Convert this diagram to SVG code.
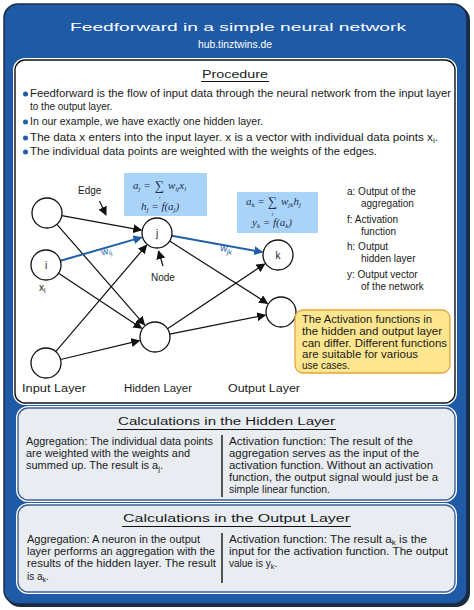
<svg xmlns="http://www.w3.org/2000/svg" width="474" height="610" viewBox="0 0 474 610">
<style>
.t{font-family:"Liberation Sans",Arial,sans-serif;font-size:10px;fill:#1a1a1a}
.w{fill:#ffffff}
.m{font-family:"Liberation Serif","Times New Roman",serif;font-style:italic;font-size:11px;fill:#1e2f4f}
.sg{font-family:"Liberation Serif","Times New Roman",serif;font-size:13px;fill:#1e2f4f}
.idx{font-family:"Liberation Serif","Times New Roman",serif;font-style:italic;font-size:5px;fill:#1e2f4f}
.s{font-size:7px}
.node{fill:#ffffff;stroke:#111111;stroke-width:1.3}
.e{stroke:#111111;stroke-width:1.2;fill:none;marker-end:url(#ah)}
.eb{stroke:#1f5fa8;stroke-width:2;fill:none;marker-end:url(#ahb)}
.ul{stroke:#111111;stroke-width:1.2}
.dot{fill:#1f5fa8}
.calc{fill:#e9edf2;stroke:#3d5f93;stroke-width:1.4}
.halo{fill:none;stroke:#ffffff;stroke-width:4}
.fb{fill:#a9d3f7}
.bl{fill:#1f5fa8}
</style>
<defs>
<marker id="ah" viewBox="0 0 10 10" refX="9" refY="5" markerWidth="9" markerHeight="9" markerUnits="userSpaceOnUse" orient="auto"><path d="M0,0 L10,5 L0,10 z" fill="#111111"/></marker>
<marker id="ahb" viewBox="0 0 10 10" refX="9" refY="5" markerWidth="9" markerHeight="9" markerUnits="userSpaceOnUse" orient="auto"><path d="M0,0 L10,5 L0,10 z" fill="#1f5fa8"/></marker>
</defs>

<g id="frame">
<rect x="6" y="6" width="464" height="601" rx="14" fill="#1b2b44"/>
<rect x="4" y="4" width="463" height="600" rx="14" fill="#1f5aa6" stroke="#1b2b44" stroke-width="1.5"/>
<text class="t w" x="70" y="31" font-size="20" textLength="336" lengthAdjust="spacingAndGlyphs">Feedforward in a simple neural network</text>
<text class="t w" x="198" y="48" textLength="74" lengthAdjust="spacingAndGlyphs">hub.tinztwins.de</text>
</g>

<g id="procedure">
<rect x="15" y="60" width="440" height="343" rx="10" fill="#ffffff" stroke="#ffffff" stroke-width="4"/>
<rect x="15" y="60" width="440" height="343" rx="10" fill="#ffffff" stroke="#111111" stroke-width="1.4"/>
<text class="t" x="202" y="78" font-size="15" textLength="66" lengthAdjust="spacingAndGlyphs">Procedure</text>
<line class="ul" x1="201" y1="81.5" x2="269" y2="81.5"/>
<circle class="dot" cx="25.5" cy="94" r="2.5"/>
<circle class="dot" cx="25.5" cy="122" r="2.5"/>
<circle class="dot" cx="25.5" cy="138" r="2.5"/>
<circle class="dot" cx="25.5" cy="152" r="2.5"/>
<text class="t" x="30" y="97" textLength="421" lengthAdjust="spacingAndGlyphs">Feedforward is the flow of input data through the neural network from the input layer</text>
<text class="t" x="30" y="110">to the output layer.</text>
<text class="t" x="30" y="125" textLength="233" lengthAdjust="spacingAndGlyphs">In our example, we have exactly one hidden layer.</text>
<text class="t" x="30" y="141" textLength="408" lengthAdjust="spacingAndGlyphs">The data x enters into the input layer. x is a vector with individual data points x<tspan class="s" dy="2">i</tspan><tspan dy="-2">.</tspan></text>
<text class="t" x="30" y="155" textLength="347" lengthAdjust="spacingAndGlyphs">The individual data points are weighted with the weights of the edges.</text>
</g>

<g id="formula-hidden">
<rect class="fb" x="124" y="173" width="83" height="43"/>
<text class="m" x="133" y="189">a<tspan class="s" dy="2">j</tspan><tspan dy="-2"> = </tspan></text>
<text class="sg" x="155" y="190">∑</text>
<text class="idx" x="159" y="198.5">i</text>
<text class="m" x="168" y="189">w<tspan class="s" dy="2">ij</tspan><tspan dy="-2">x</tspan><tspan class="s" dy="2">i</tspan></text>
<text class="m" x="141" y="210">h<tspan class="s" dy="2">j</tspan><tspan dy="-2"> = f(a</tspan><tspan class="s" dy="2">j</tspan><tspan dy="-2">)</tspan></text>
</g>

<g id="formula-output">
<rect class="fb" x="237" y="192" width="81" height="41"/>
<text class="m" x="246" y="205">a<tspan class="s" dy="2">k</tspan><tspan dy="-2"> = </tspan></text>
<text class="sg" x="268" y="206">∑</text>
<text class="idx" x="272" y="214.5">j</text>
<text class="m" x="281" y="205">w<tspan class="s" dy="2">jk</tspan><tspan dy="-2">h</tspan><tspan class="s" dy="2">j</tspan></text>
<text class="m" x="252" y="226">y<tspan class="s" dy="2">k</tspan><tspan dy="-2"> = f(a</tspan><tspan class="s" dy="2">k</tspan><tspan dy="-2">)</tspan></text>
</g>

<g id="connectors">
<line class="e" x1="61.8" y1="215.7" x2="141.3" y2="230.1"/>
<line class="e" x1="56.9" y1="224.3" x2="144.5" y2="324.9"/>
<line class="eb" x1="60.4" y1="260.8" x2="141.6" y2="237.4"/>
<line class="e" x1="58.5" y1="273.3" x2="141.6" y2="328.2"/>
<line class="e" x1="55.7" y1="351.6" x2="146.6" y2="245.2"/>
<line class="e" x1="60.6" y1="359.5" x2="139.4" y2="340.7"/>
<line class="eb" x1="171.8" y1="235.7" x2="262.3" y2="252.1"/>
<line class="e" x1="169.6" y1="241.1" x2="267.5" y2="303.4"/>
<line class="e" x1="167.5" y1="328.7" x2="264.7" y2="263.9"/>
<line class="e" x1="169.7" y1="334.1" x2="265.3" y2="315.1"/>
<line class="e" x1="99.5" y1="201" x2="106" y2="215"/>
<line class="e" x1="163" y1="266" x2="158.5" y2="251"/>
</g>

<g id="node-input-1"><circle class="node" cx="47" cy="213" r="15"/></g>
<g id="node-input-i"><circle class="node" cx="46" cy="265" r="15"/><text class="t" x="46" y="268.5" text-anchor="middle">i</text></g>
<g id="node-input-3"><circle class="node" cx="46" cy="363" r="15"/></g>
<g id="node-hidden-j"><circle class="node" cx="157" cy="233" r="15"/><text class="t" x="157" y="237" text-anchor="middle">j</text></g>
<g id="node-hidden-2"><circle class="node" cx="155" cy="337" r="15"/></g>
<g id="node-output-k"><circle class="node" cx="278" cy="255" r="15"/><text class="t" x="278" y="259" text-anchor="middle">k</text></g>
<g id="node-output-2"><circle class="node" cx="281" cy="312" r="15"/></g>

<g id="labels">
<text class="t" x="78" y="194">Edge</text>
<text class="t" x="151" y="281">Node</text>
<text class="t" x="39" y="291">x<tspan class="s" dy="2">i</tspan></text>
<text class="t bl" x="101" y="254" transform="rotate(-16 107 251)">w<tspan class="s" dy="2">ij</tspan></text>
<text class="t bl" x="220" y="252" transform="rotate(10 227 250)">w<tspan class="s" dy="2">jk</tspan></text>
<text class="t" x="22" y="392" textLength="64" lengthAdjust="spacingAndGlyphs">Input Layer</text>
<text class="t" x="124" y="392" textLength="68" lengthAdjust="spacingAndGlyphs">Hidden Layer</text>
<text class="t" x="228" y="392" textLength="72" lengthAdjust="spacingAndGlyphs">Output Layer</text>
</g>

<g id="legend">
<text class="t" x="347" y="195">a: Output of the</text>
<text class="t" x="361" y="207">aggregation</text>
<text class="t" x="347" y="223">f: Activation</text>
<text class="t" x="361" y="235">function</text>
<text class="t" x="347" y="250">h: Output</text>
<text class="t" x="361" y="262">hidden layer</text>
<text class="t" x="347" y="278">y: Output vector</text>
<text class="t" x="361" y="290">of the network</text>
</g>

<g id="note">
<rect x="295" y="310" width="155" height="63" rx="8" fill="#fde68f" stroke="#e2a63c" stroke-width="1.3"/>
<text class="t" x="302" y="323" textLength="130" lengthAdjust="spacingAndGlyphs">The Activation functions in</text>
<text class="t" x="302" y="335" textLength="140" lengthAdjust="spacingAndGlyphs">the hidden and output layer</text>
<text class="t" x="302" y="347" textLength="145" lengthAdjust="spacingAndGlyphs">can differ. Different functions</text>
<text class="t" x="302" y="358" textLength="116" lengthAdjust="spacingAndGlyphs">are suitable for various</text>
<text class="t" x="302" y="369">use cases.</text>
</g>

<g id="calc-hidden">
<rect class="halo" x="18" y="408" width="437" height="92" rx="10"/>
<rect class="calc" x="18" y="408" width="437" height="92" rx="10"/>
<text class="t" x="118" y="425" font-size="14" textLength="217" lengthAdjust="spacingAndGlyphs">Calculations in the Hidden Layer</text>
<line class="ul" x1="117" y1="429.5" x2="336" y2="429.5"/>
<line x1="222" y1="435" x2="222" y2="497" stroke="#111111" stroke-width="1.4"/>
<text class="t" x="26" y="445" textLength="187" lengthAdjust="spacingAndGlyphs">Aggregation: The individual data points</text>
<text class="t" x="26" y="457" textLength="164" lengthAdjust="spacingAndGlyphs">are weighted with the weights and</text>
<text class="t" x="26" y="469" textLength="137" lengthAdjust="spacingAndGlyphs">summed up. The result is a<tspan class="s" dy="2">j</tspan><tspan dy="-2">.</tspan></text>
<text class="t" x="229" y="445" textLength="184" lengthAdjust="spacingAndGlyphs">Activation function: The result of the</text>
<text class="t" x="229" y="457" textLength="190" lengthAdjust="spacingAndGlyphs">aggregation serves as the input of the</text>
<text class="t" x="229" y="469" textLength="204" lengthAdjust="spacingAndGlyphs">activation function. Without an activation</text>
<text class="t" x="229" y="481" textLength="209" lengthAdjust="spacingAndGlyphs">function, the output signal would just be a</text>
<text class="t" x="229" y="493" textLength="101" lengthAdjust="spacingAndGlyphs">simple linear function.</text>
</g>

<g id="calc-output">
<rect class="halo" x="18" y="505" width="437" height="87" rx="10"/>
<rect class="calc" x="18" y="505" width="437" height="87" rx="10"/>
<text class="t" x="123" y="522" font-size="14" textLength="227" lengthAdjust="spacingAndGlyphs">Calculations in the Output Layer</text>
<line class="ul" x1="122" y1="526.5" x2="351" y2="526.5"/>
<line x1="222" y1="533" x2="222" y2="583" stroke="#111111" stroke-width="1.4"/>
<text class="t" x="27" y="543" textLength="173" lengthAdjust="spacingAndGlyphs">Aggregation: A neuron in the output</text>
<text class="t" x="27" y="555" textLength="188" lengthAdjust="spacingAndGlyphs">layer performs an aggregation with the</text>
<text class="t" x="27" y="567" textLength="189" lengthAdjust="spacingAndGlyphs">results of the hidden layer. The result</text>
<text class="t" x="27" y="580">is a<tspan class="s" dy="2">k</tspan><tspan dy="-2">.</tspan></text>
<text class="t" x="229" y="543" textLength="198" lengthAdjust="spacingAndGlyphs">Activation function: The result a<tspan class="s" dy="2">k</tspan><tspan dy="-2"> is the</tspan></text>
<text class="t" x="229" y="555" textLength="219" lengthAdjust="spacingAndGlyphs">input for the activation function. The output</text>
<text class="t" x="229" y="567">value is y<tspan class="s" dy="2">k</tspan><tspan dy="-2">.</tspan></text>
</g>
</svg>
